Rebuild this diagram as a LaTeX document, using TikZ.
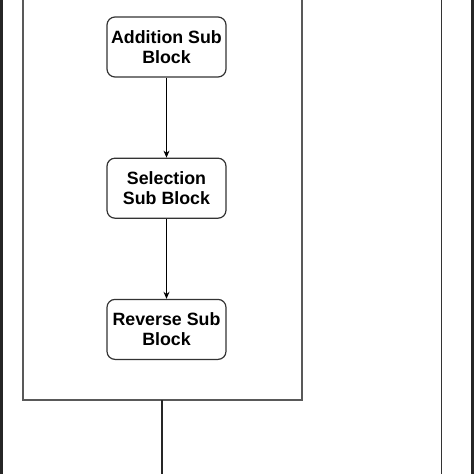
\documentclass[tikz,border=0pt]{standalone}
\usepackage{fontspec}
\setmainfont{Liberation Sans}
\usetikzlibrary{positioning,arrows.meta}
\begin{document}
\begin{tikzpicture}[x=1pt, y=-1pt,
  subblock/.style={draw=black!80, line width=1.2pt, rounded corners=8pt, minimum width=119pt, minimum height=60pt, align=center, font=\bfseries\fontsize{17.8}{20}\selectfont, inner sep=0pt},
  flow/.style={-{Stealth[length=7pt, width=6pt]}, line width=0.8pt}]
\useasboundingbox (0,0) rectangle (474,474);
\begin{scope}
\clip (0,0) rectangle (474,474);
% outer frame and side lines
\draw [line width=3pt, black!85] (1.5,-10) rectangle (472.5,484);
\draw [line width=1.5pt, black!80] (441.5,-10) -- (441.5,484);
% inner block
\draw [line width=2pt, black!65] (22.5,-10) -- (22.5,400) -- (301.5,400) -- (301.5,-10);
\coordinate (stemtop) at (162,400);
\coordinate (stembot) at (162,484);
\draw [line width=1.2pt, black!85] (stemtop) -- (stembot);
\end{scope}
% sub blocks
\node [subblock] (add) at (166.5,47) {Addition Sub\\Block};
\node [subblock, below=80pt of add] (sel) {Selection\\Sub Block};
\node [subblock, below=80pt of sel] (rev) {Reverse Sub\\Block};
\draw [flow] (add) -- (sel);
\draw [flow] (sel) -- (rev);
\end{tikzpicture}
\end{document}
